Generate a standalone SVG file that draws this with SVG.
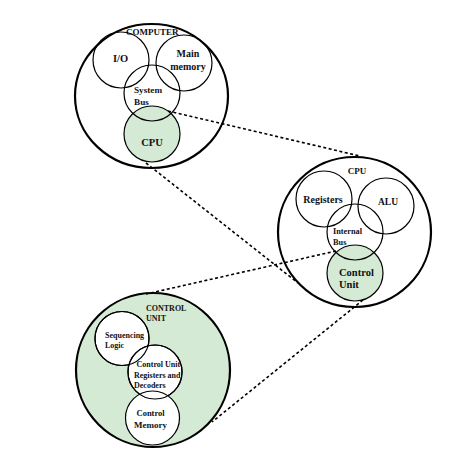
<svg xmlns="http://www.w3.org/2000/svg" width="474" height="462" viewBox="0 0 474 462">
<style>
.outer{fill:#fff;stroke:#000;stroke-width:2.2}
.outerg{fill:#d4ead4;stroke:#000;stroke-width:2.2}
.in{fill:none;stroke:#000;stroke-width:1.2}
.inw{fill:#fff;stroke:#000;stroke-width:1.2}
.ing{fill:#d4ead4;stroke:#000;stroke-width:1.2}
.line{fill:none;stroke:#000;stroke-width:1.6;stroke-dasharray:3 2.5}
text{font-family:"Liberation Serif","Times New Roman",serif;font-weight:bold;fill:#111}
</style>
<rect width="474" height="462" fill="#fff"/>
<g id="computer">
<ellipse class="outer" cx="151.5" cy="96" rx="76.5" ry="72"/>
<text x="126" y="35" font-size="9">COMPUTER</text>
</g>
<g id="cpu-small">
<circle class="ing" cx="152" cy="134" r="28"/>
<text x="152" y="146" font-size="10.5" text-anchor="middle">CPU</text>
</g>
<g id="io">
<circle class="in" cx="121" cy="60" r="28"/>
<text x="113" y="62" font-size="10.5">I/O</text>
</g>
<g id="main-memory">
<circle class="in" cx="184" cy="63" r="28"/>
<text x="188" y="56.5" font-size="10" text-anchor="middle">Main</text>
<text x="188" y="69.5" font-size="10" text-anchor="middle">memory</text>
</g>
<g id="system-bus">
<circle class="in" cx="152" cy="93" r="28"/>
<text x="134" y="93" font-size="9.2">System</text>
<text x="134" y="104.5" font-size="9.2">Bus</text>
</g>
<g id="cpu">
<ellipse class="outer" cx="354.5" cy="232" rx="76.5" ry="75"/>
<text x="357" y="173.5" font-size="9" text-anchor="middle">CPU</text>
</g>
<g id="control-unit-small">
<circle class="ing" cx="355" cy="273" r="28"/>
<text x="339" y="276" font-size="10.5">Control</text>
<text x="339" y="288" font-size="10.5">Unit</text>
</g>
<g id="registers">
<circle class="in" cx="324" cy="199" r="28"/>
<text x="323" y="202.5" font-size="10" text-anchor="middle">Registers</text>
</g>
<g id="alu">
<circle class="in" cx="386" cy="206" r="28"/>
<text x="388" y="205" font-size="9.5" text-anchor="middle">ALU</text>
</g>
<g id="internal-bus">
<circle class="in" cx="355" cy="232" r="28"/>
<text x="333" y="234" font-size="8.3">Internal</text>
<text x="333" y="244.5" font-size="8.3">Bus</text>
</g>
<g id="control-unit">
<circle class="outerg" cx="153" cy="370" r="77"/>
<text x="146" y="311" font-size="8">CONTROL</text>
<text x="146" y="321" font-size="8">UNIT</text>
</g>
<g id="sequencing-logic">
<circle class="inw" cx="122" cy="338.5" r="27"/>
<text x="105" y="338" font-size="8">Sequencing</text>
<text x="105" y="347.5" font-size="8">Logic</text>
</g>
<g id="cu-registers">
<circle class="inw" cx="155" cy="372" r="27"/>
<circle class="in" cx="122" cy="338.5" r="27"/>
<text x="136.5" y="367" font-size="8">Control Unit</text>
<text x="134" y="377.5" font-size="8">Registers and</text>
<text x="134" y="387.5" font-size="8">Decoders</text>
</g>
<g id="control-memory">
<circle class="inw" cx="152.5" cy="418" r="27"/>
<circle class="in" cx="155" cy="372" r="27"/>
<text x="136.5" y="415.5" font-size="8.5">Control</text>
<text x="134" y="428" font-size="9">Memory</text>
</g>
<g id="connectors">
<path class="line" d="M168 111 L360 156"/>
<path class="line" d="M146 163 L298 283"/>
<path class="line" d="M336 251 L146 294"/>
<path class="line" d="M363 300 L212 422"/>
</g>
</svg>
